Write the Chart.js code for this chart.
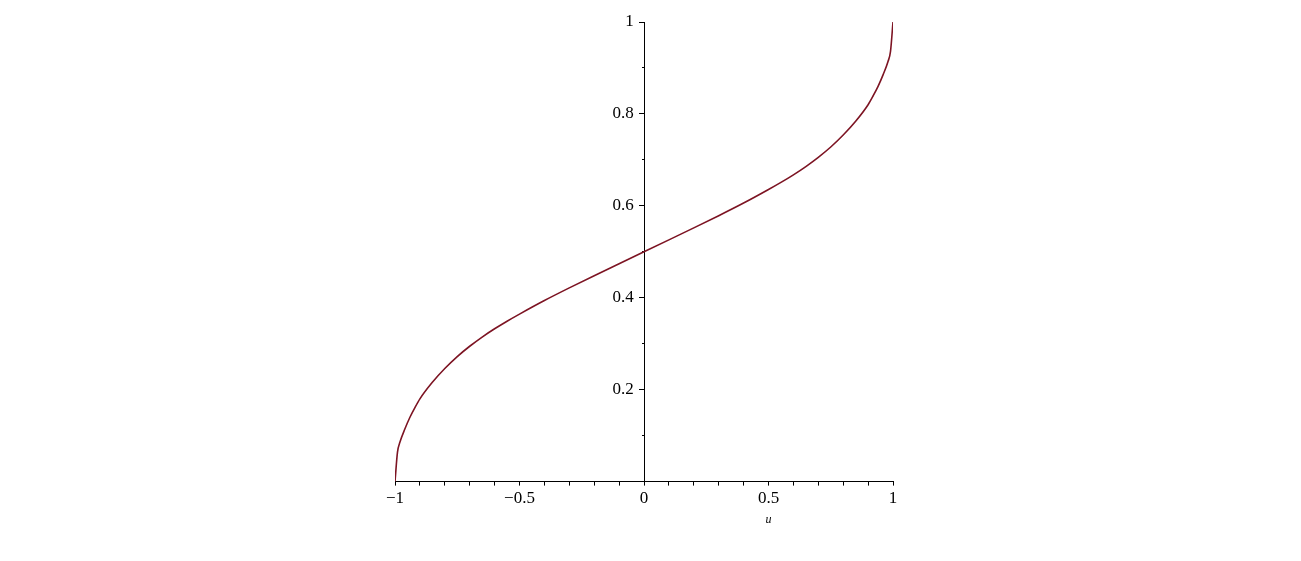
<!DOCTYPE html>
<html>
<head>
<meta charset="utf-8">
<script src="https://cdn.jsdelivr.net/npm/chart.js@4/dist/chart.umd.min.js"></script>
<style>
    html, body { margin: 0; padding: 0; background: #fff; }
    #plot-canvas { display: block; }
</style>
</head>
<body>
<canvas id="plot-canvas" width="1301" height="561"></canvas>
<script>
// values
const uValues = [
    -1, -0.99, -0.98, -0.96, -0.94, -0.92, -0.9, -0.85, -0.8, -0.75, -0.7, -0.65, -0.6, -0.55, -0.5,
    -0.4, -0.3, -0.2, -0.1, 0, 0.1, 0.2, 0.3, 0.4,
    0.5, 0.55, 0.6, 0.65, 0.7, 0.75, 0.8, 0.85, 0.9, 0.92, 0.94, 0.96, 0.98, 0.99, 1
]
const curveValues = [
    0, 0.064, 0.086, 0.115, 0.140, 0.161, 0.180, 0.216, 0.246, 0.272, 0.2945, 0.3145, 0.3325, 0.349, 0.3645,
    0.394, 0.4215, 0.448, 0.474, 0.5, 0.526, 0.552, 0.5785, 0.606,
    0.6355, 0.651, 0.6675, 0.6855, 0.7055, 0.728, 0.754, 0.784, 0.820, 0.839, 0.860, 0.885, 0.914, 0.936, 1
]
const xTickLabels = [-1, -0.5, 0, 0.5, 1]
const yTickLabels = [0.2, 0.4, 0.6, 0.8, 1]
const axisTitle = 'u'

const serif = '"Liberation Serif", "DejaVu Serif", serif'
const plotCanvas = document.querySelector('#plot-canvas')

const formatNumber = (v) => (v < 0 ? '\u2212' + Math.abs(v) : String(v))
const isLabelled = (list, v) => list.some(t => Math.abs(t - v) < 1e-6)

const axisTitlePlugin = {
    id: 'axisTitle',
    afterDraw(chart) {
        const { ctx, scales } = chart
        ctx.save()
        ctx.font = 'italic 12px ' + serif
        ctx.fillStyle = '#000'
        ctx.textAlign = 'center'
        ctx.textBaseline = 'middle'
        ctx.fillText(axisTitle, scales.x.getPixelForValue(0.5), scales.x.top + 38)
        ctx.restore()
    }
}

new Chart(plotCanvas, {
    type: 'line',
    data: {
        datasets: [
            {
                data: uValues.map((u, i) => ({ x: u, y: curveValues[i] })),
                borderColor: '#7d1423',
                borderWidth: 1.6,
                pointRadius: 0,
                cubicInterpolationMode: 'monotone',
                fill: false
            }
        ]
    },
    plugins: [axisTitlePlugin],
    options: {
        responsive: false,
        animation: false,
        layout: {
            padding: { left: 395, right: 408, top: 22, bottom: 49 }
        },
        plugins: {
            legend: { display: false },
            tooltip: { enabled: false }
        },
        scales: {
            x: {
                type: 'linear',
                min: -1,
                max: 1,
                position: 'bottom',
                border: { color: '#000', width: 1 },
                grid: { drawOnChartArea: false, color: '#000', tickLength: 4 },
                ticks: {
                    stepSize: 0.1,
                    autoSkip: false,
                    maxRotation: 0,
                    padding: 3,
                    color: '#000',
                    font: { family: serif, size: 17 },
                    callback: (v) => (isLabelled(xTickLabels, v) ? formatNumber(Math.round(v * 10) / 10) : '')
                }
            },
            y: {
                type: 'linear',
                min: 0,
                max: 1,
                position: { x: 0 },
                border: { color: '#000', width: 1 },
                grid: { drawOnChartArea: false, color: '#000', tickLength: 5 },
                ticks: {
                    stepSize: 0.2,
                    padding: 4,
                    color: '#000',
                    font: { family: serif, size: 17 },
                    callback: (v) => (isLabelled(yTickLabels, v) ? formatNumber(Math.round(v * 10) / 10) + '\u2009\u2009\u2009' : '')
                }
            },
            yMinor: {
                type: 'linear',
                axis: 'y',
                min: 0,
                max: 1,
                position: { x: 0 },
                border: { color: '#000', width: 1 },
                grid: { drawOnChartArea: false, color: '#000', tickLength: 2 },
                ticks: {
                    stepSize: 0.1,
                    callback: () => ''
                }
            }
        }
    }
})
</script>
</body>
</html>
